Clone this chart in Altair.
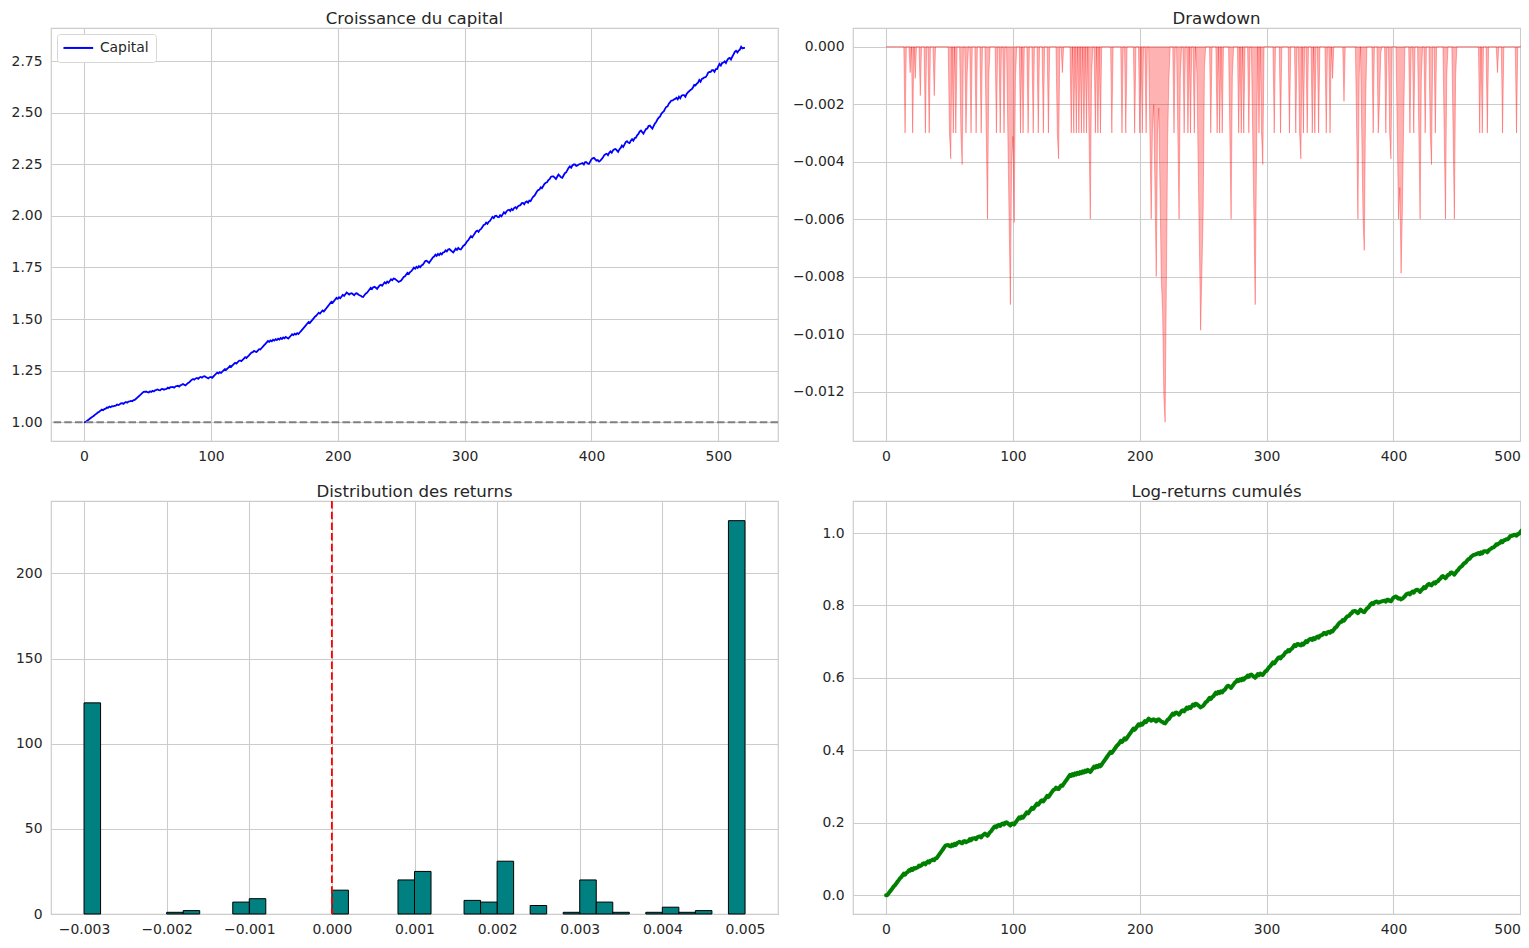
import altair as alt
import numpy as np
import pandas as pd

# Daily returns, in basis points (1 bp = 0.0001)
returns_bp = [
    1, 50, 50, 41, 50, 50, 31, 50, 50, 45,
    50, 31, 50, 50, -30, 50, 21, 50, -9, 50,
    -30, 50, -11, 21, 11, 50, -17, 21, 50, 9,
    -30, 50, 31, -30, 50, 11, 21, -17, 50, 9,
    50, 50, 50, 50, 50, 50, 50, 1, 11, -30,
    -9, 50, -30, 50, -30, 50, 17, 21, -30, -11,
    50, 9, -30, 21, 11, 50, -30, 50, 1, 11,
    -30, 50, 19, 9, -30, 50, 25, 31, -30, -30,
    50, 50, 33, 50, 50, 31, -30, 50, 17, -30,
    50, 21, -30, 50, 11, -30, -30, -30, 50, 9,
    -30, 50, 50, 50, 50, -30, 50, -30, 50, 50,
    50, -30, 50, 50, 50, -30, 50, 50, 50, -30,
    50, 50, 21, -30, 50, 50, 50, -30, 50, 50,
    50, 50, 11, 50, -30, -9, 50, 50, -9, 50,
    50, 50, 50, 50, 50, -30, 50, -30, 50, -30,
    50, -30, 50, -30, 50, -30, 50, -30, 50, -30,
    -30, 50, 50, 50, -30, 50, -30, 50, -30, 50,
    50, 50, 50, 50, 50, 50, 50, -30, 50, 50,
    50, 50, 31, 50, 50, -30, 50, 50, -30, 50,
    50, 50, 50, 50, 50, -30, 50, 50, 50, -30,
    50, -30, 50, 50, -30, 50, 50, -30, -30, 31,
    9, -30, -30, 50, 9, -30, -30, -11, -30, -9,
    50, 50, 21, 50, 50, 50, -30, 50, 11, -30,
    -30, 50, 50, 21, -30, 50, 50, -30, 50, -30,
    50, 50, -30, 50, -9, -30, -30, -30, 21, 21,
    50, 50, 19, 50, 50, -30, 50, 25, 50, 50,
    -30, 50, -30, 50, -30, 50, 21, 50, 50, 11,
    -30, -30, 50, 50, 50, 21, 50, -30, 50, -30,
    50, -30, 50, 9, 50, -30, 50, 11, -30, -30,
    -30, 50, 50, -30, 50, -30, -11, 50, 50, 17,
    50, 50, 31, 50, 50, -30, 50, 50, 50, 21,
    -30, 50, 21, 50, 50, 9, 50, -30, 50, 21,
    50, 50, -30, 50, 9, -30, -9, 50, -30, 50,
    50, -30, 50, 31, 11, -30, 50, -30, 50, 21,
    -30, 50, 19, 9, 50, 1, -30, 50, 17, -30,
    50, -11, 50, 50, 21, 50, 50, 33, 11, 50,
    -19, 50, 50, 25, 9, 50, 21, 50, 11, 1,
    -30, -30, 50, 50, -30, -30, -11, 50, 50, 19,
    50, 50, 31, -30, 50, 21, 1, -30, 11, 17,
    11, 11, 9, -30, 50, 1, -30, -9, 50, 50,
    21, 9, -30, -30, 11, -30, 21, 31, 33, 50,
    21, 11, -30, 50, 31, -30, 50, 21, 9, -30,
    -30, 50, 31, 50, -30, 50, 50, 21, -30, -11,
    50, 31, -30, 50, 11, 50, 25, 50, 19, -30,
    -30, 50, 41, 11, 50, 9, -30, -30, 50, 50,
    31, 50, 35, 21, 50, 33, 17, 50, 39, 11,
    50, 29, 31, 1, 19, 11, 21, -30, 50, -30,
    50, 9, 1, -30, 50, 31, 21, 25, 11, 33,
    50, -9, 31, 17, 50, -30, 50, 9, 21, 1,
    33, 50, 11, 1, 31, 1, -30, 50, 1, 50,
    41, -30, 45, 9, 21, -30, 50, 31, 11, -30,
    50, 41, 43, 19, -30, 33, 17, 50, -30, 9, 1,
]

initial_capital = 1.0
serie_names = ["Capital"]
titles = ["Croissance du capital", "Drawdown", "Distribution des returns", "Log-returns cumulés"]
day_ticks = [0, 100, 200, 300, 400, 500]
capital_ticks = [1.00, 1.25, 1.50, 1.75, 2.00, 2.25, 2.50, 2.75]
dd_ticks = [0.000, -0.002, -0.004, -0.006, -0.008, -0.010, -0.012]
hist_x_ticks = [-0.003, -0.002, -0.001, 0.000, 0.001, 0.002, 0.003, 0.004, 0.005]
hist_y_ticks = [0, 50, 100, 150, 200]
log_ticks = [0.0, 0.2, 0.4, 0.6, 0.8, 1.0]
hist_extent = [-0.003, 0.005]
hist_step = 0.0002
capital_ref = [1.0]
zero_ref = [0.0]

rets = [v / 10000 for v in returns_bp]
df_ret = pd.DataFrame({"ret": rets})

# curves: day 0 is the starting capital, then one point per return
growth = pd.Series([0.0] + rets)
df = pd.DataFrame({"jour": list(range(len(growth)))})
df["capital"] = initial_capital * (1 + growth).cumprod()
df["drawdown"] = df["capital"] / df["capital"].cummax() - 1
df["logcum"] = np.log1p(growth).cumsum()
df["base"] = 0.0
df["serie"] = serie_names[0]

FONT = "DejaVu Sans"
TXT = "#262626"
W, H = 727, 413          # left column plot size
WR = 668                 # right column is cropped by the window in the reference


def pad(lo, hi, m=0.05):
    r = hi - lo
    return [lo - m * r, hi + m * r]


n = len(df)
x_dom = pad(0, n - 1)
px_per_day = W / (x_dom[1] - x_dom[0])
x_dom_right = [x_dom[0], x_dom[0] + WR / px_per_day]
cap_dom = pad(float(df["capital"].min()), float(df["capital"].max()))
dd_dom = pad(float(df["drawdown"].min()), float(df["drawdown"].max()))
log_dom = pad(float(df["logcum"].min()), float(df["logcum"].max()))
counts, _ = np.histogram(rets, bins=40, range=tuple(hist_extent))
hist_y_dom = [0, float(counts.max()) * 1.05]
hist_x_dom = pad(hist_extent[0], hist_extent[1])


def sc(dom):
    return alt.Scale(domain=dom, nice=False, zero=False)


def xax(vals, fmt, flush=False):
    return alt.Axis(values=vals, format=fmt, title=None, grid=True, ticks=False, tickSize=0,
                    domain=False, labelPadding=8, labelFlush=10 if flush else False,
                    labelOverlap=False)


def yax(vals, fmt):
    return alt.Axis(values=vals, format=fmt, title=None, grid=True, ticks=False, tickSize=0,
                    domain=False, labelPadding=9, labelFlush=False, labelOverlap=False)


def ttl(text, dx=0):
    return alt.TitleParams(text=text, font=FONT, fontSize=16.6, fontWeight="normal", color=TXT,
                           offset=0, anchor="middle", dx=dx)


base = alt.Chart(df)
X_DAY = alt.X("jour:Q", scale=sc(x_dom), axis=xax(day_ticks, "d"))
X_DAY_R = alt.X("jour:Q", scale=sc(x_dom_right), axis=xax(day_ticks, "d", flush=True))
DX_R = (W - WR) / 2

# 1. Capital
cap_line = base.mark_line(strokeWidth=1.8).encode(
    x=X_DAY,
    y=alt.Y("capital:Q", scale=sc(cap_dom), axis=yax(capital_ticks, ".2f")),
    color=alt.Color("serie:N", scale=alt.Scale(domain=serie_names, range=["blue"]),
                    legend=alt.Legend(title=None, orient="top-left", offset=6, padding=7,
                                      strokeColor="#d6d6d6", fillColor="white", cornerRadius=3,
                                      symbolType="M-2.7,0H2.7", symbolSize=121, symbolStrokeWidth=2,
                                      symbolOffset=7.35, labelOffset=14.65, labelFont=FONT,
                                      labelFontSize=13.9, labelColor=TXT)),
)
cap_ref = alt.Chart(pd.DataFrame({"niveau": capital_ref})).mark_rule(
    color="gray", strokeWidth=1.8, strokeDash=[7.5, 3.2]
).encode(y=alt.Y("niveau:Q", scale=sc(cap_dom), axis=yax(capital_ticks, ".2f")))
p1 = alt.layer(cap_line, cap_ref).properties(width=W, height=H, title=ttl(titles[0]))

# 2. Drawdown
p2 = base.mark_area(fill="red", fillOpacity=0.3, stroke="red", strokeOpacity=0.3, strokeWidth=1,
                    clip=True).encode(
    x=X_DAY_R,
    y=alt.Y("drawdown:Q", scale=sc(dd_dom), axis=yax(dd_ticks, ".3f")),
    y2="base:Q",
).properties(width=WR, height=H, title=ttl(titles[1], DX_R))

# 3. Histogram of the returns
hist = alt.Chart(df_ret).transform_bin(
    "b0", "ret", bin=alt.Bin(extent=hist_extent, step=hist_step, nice=False)
).transform_aggregate(
    n="count()", groupby=["b0", "b0_end"]
).mark_bar(fill="teal", stroke="black", strokeWidth=1).encode(
    x=alt.X("b0:Q", scale=sc(hist_x_dom), axis=xax(hist_x_ticks, ".3f")),
    x2="b0_end:Q",
    y=alt.Y("n:Q", scale=sc(hist_y_dom), axis=yax(hist_y_ticks, "d")),
    y2=alt.datum(0),
)
zero_line = alt.Chart(pd.DataFrame({"zero": zero_ref})).mark_rule(
    color="red", strokeWidth=1.8, strokeDash=[7.5, 3.2]
).encode(x=alt.X("zero:Q", scale=sc(hist_x_dom), axis=xax(hist_x_ticks, ".3f")))
p3 = alt.layer(hist, zero_line).properties(width=W, height=H, title=ttl(titles[2]))

# 4. Cumulative log returns
p4 = base.mark_line(color="green", strokeWidth=4, strokeCap="round", strokeJoin="round",
                    clip=True).encode(
    x=X_DAY_R,
    y=alt.Y("logcum:Q", scale=sc(log_dom), axis=yax(log_ticks, ".1f")),
).properties(width=WR, height=H, title=ttl(titles[3], DX_R))

chart = alt.concat(p1, p2, p3, p4, columns=2, spacing={"row": 18, "column": 11}).resolve_scale(
    color="independent"
).properties(
    padding={"left": 2, "top": 2, "right": -1, "bottom": 0}, background="white"
).configure_view(
    stroke="#cccccc", strokeWidth=1.2
).configure_axis(
    labelFont=FONT, labelFontSize=13.9, labelColor=TXT, gridColor="#cccccc", gridWidth=1.1
)

chart.save("out.html", embed_options={"renderer": "svg", "actions": False})
